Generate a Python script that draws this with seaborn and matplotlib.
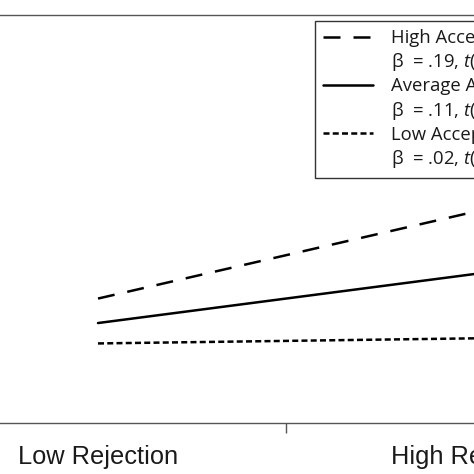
import matplotlib
matplotlib.use("Agg")
import matplotlib.pyplot as plt
from matplotlib.lines import Line2D
import seaborn as sns
import pandas as pd

# ---- data ----
rejection_levels = ["Low Rejection", "High Rejection"]
rejection_x = [0, 1]
groups = ["High Acceptance", "Average Acceptance", "Low Acceptance"]
high_acc = [2.22, 3.07]
avg_acc = [1.98, 2.46]
low_acc = [1.78, 1.83]
stat_labels = [
    "β  = .19, $t$(118) = 3.24, $p$ = .002",
    "β  = .11, $t$(118) = 2.05, $p$ = .043",
    "β  = .02, $t$(118) = 0.31, $p$ = .756",
]

df = pd.DataFrame({
    "x": rejection_x * 3,
    "y": high_acc + avg_acc + low_acc,
    "group": [g for g in groups for _ in rejection_x],
})

sns.set_style("white")
plt.rcParams["font.family"] = ["Liberation Sans", "DejaVu Sans"]
plt.rcParams["mathtext.fontset"] = "custom"
plt.rcParams["mathtext.rm"] = "Open Sans"
plt.rcParams["mathtext.it"] = "Open Sans:italic"

fig = plt.figure(figsize=(4.74, 4.74), dpi=100)
ax = fig.add_axes([-90 / 474, 51 / 474, 752 / 474, 408 / 474])

lw = 1.8
dashes = {
    "High Acceptance": (6.8, 5.2),
    "Average Acceptance": "",
    "Low Acceptance": (2.4, 1.3),
}
sns.lineplot(data=df, x="x", y="y", style="group", style_order=groups,
             dashes=dashes, color="black", linewidth=lw, legend=False, ax=ax)

ax.set_xlim(-0.5, 1.5)
ax.set_ylim(1, 5)
ax.set_yticks([])
ax.set_xlabel("")
ax.set_ylabel("")
ax.set_xticks([0.5], labels=[""])
ax.set_xticks(rejection_x, labels=rejection_levels, minor=True)
ax.tick_params(axis="x", which="major", length=7, width=1.0, color="#555555",
               direction="out", bottom=True)
ax.tick_params(axis="x", which="minor", length=0, pad=16, labelsize=18.3,
               labelcolor="#1a1a1a")
for side in ["left", "right"]:
    ax.spines[side].set_visible(False)
for side in ["top", "bottom"]:
    ax.spines[side].set_color("#555555")
    ax.spines[side].set_linewidth(1.0)

# legend: each entry is two text rows; handle sits beside the first row
handles, labels = [], []
for g, s in zip(groups, stat_labels):
    d = dashes[g]
    h = Line2D([], [], color="black", linewidth=lw)
    if d:
        h.set_dashes(d)
    handles.append(h)
    labels.append(g)
    handles.append(Line2D([], [], color="none"))
    labels.append(s)

leg = fig.legend(handles, labels, loc="upper left",
                 bbox_to_anchor=(315 / 474, 1 - 21 / 474), borderaxespad=0,
                 frameon=True, fancybox=False, framealpha=1, edgecolor="#333333",
                 prop={"family": ["Open Sans", "DejaVu Sans"], "size": 13.3},
                 handlelength=50 / 18.5, handletextpad=18 / 18.5,
                 borderpad=0.45, labelspacing=0.22)
leg.get_frame().set_linewidth(1.0)
for t in leg.get_texts():
    t.set_color("#1a1a1a")

fig.savefig("out.png", dpi=100)
